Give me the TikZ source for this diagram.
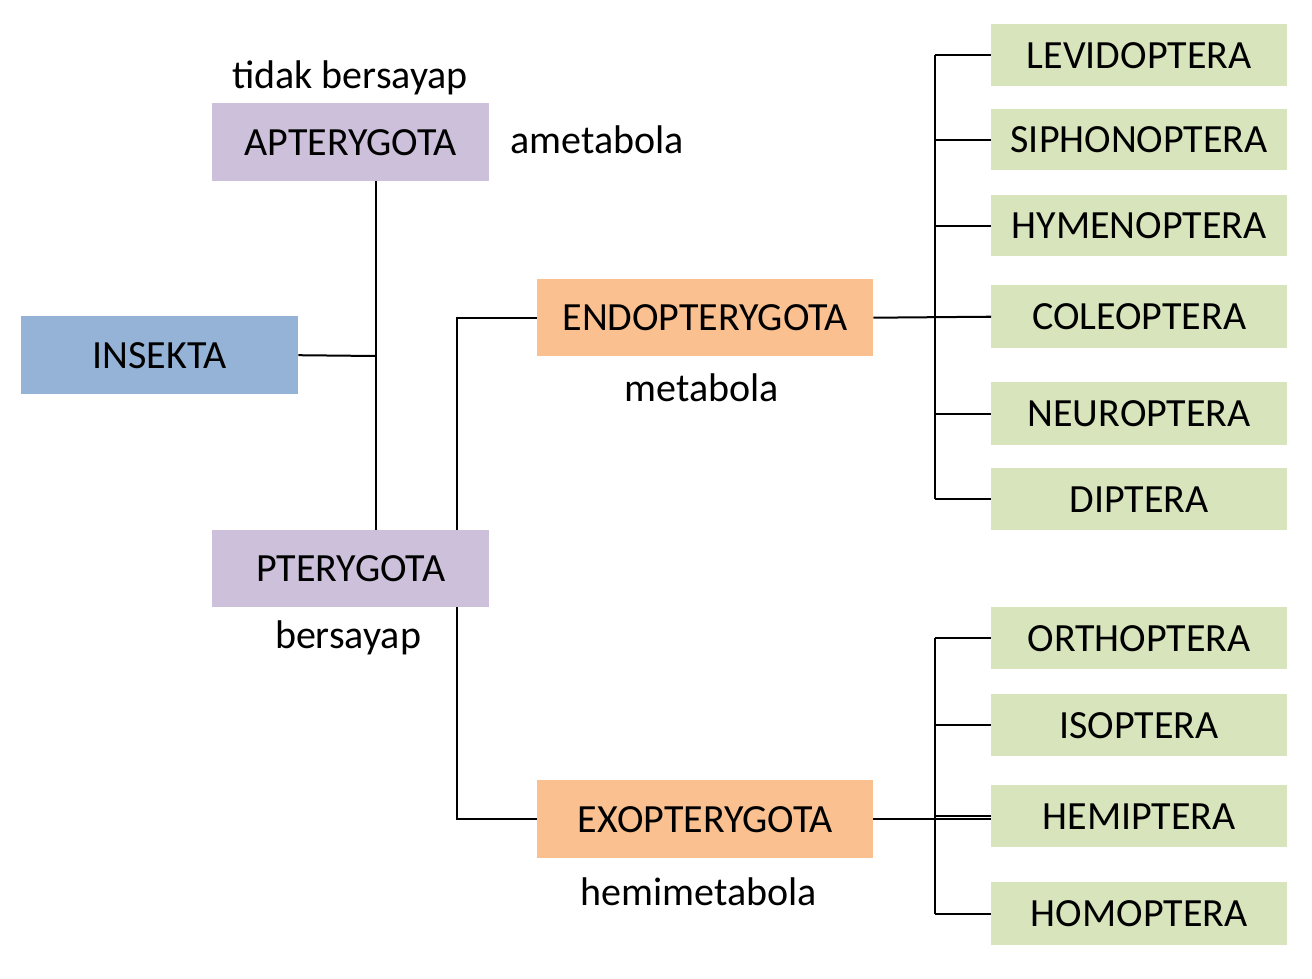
\documentclass[tikz,border=0pt]{standalone}
\usepackage{fontspec}
\setmainfont{Carlito}
\begin{document}
\begin{tikzpicture}[x=1pt,y=-1pt,
 bx/.style={inner sep=0pt,anchor=north west,font=\fontsize{40}{44}\selectfont},
 lb/.style={font=\fontsize{40}{44}\selectfont},
 ln/.style={line width=2pt}]
\useasboundingbox (0,0) rectangle (1312,978);
\definecolor{cb}{HTML}{95B3D7}\definecolor{cp}{HTML}{CCC0DA}
\definecolor{co}{HTML}{FAC090}\definecolor{cg}{HTML}{D7E4BC}
\newcommand\bxx[6]{\node[bx,fill=#6,minimum width=#4pt,minimum height=#5pt] (#1) at (#2,#3) {};\node[lb] at (#1.center) {\strut\MakeUppercase{#1}};}
\node[bx,fill=cb,minimum width=277pt,minimum height=78pt] (ins) at (21,316) {};
\node[lb] at (ins.center) {INSEKTA};
\node[bx,fill=cp,minimum width=277pt,minimum height=78pt] (apt) at (212,103) {};
\node[lb] at (apt.center) {APTERYGOTA};
\node[bx,fill=cp,minimum width=277pt,minimum height=77pt] (pte) at (212,530) {};
\node[lb] at (pte.center) {PTERYGOTA};
\node[bx,fill=co,minimum width=336pt,minimum height=77pt] (endo) at (537,279) {};
\node[lb] at (endo.center) {ENDOPTERYGOTA};
\node[bx,fill=co,minimum width=336pt,minimum height=78pt] (exo) at (537,780) {};
\node[lb] at (exo.center) {EXOPTERYGOTA};
\foreach \n/\t/\y/\h in {g1/LEVIDOPTERA/24/62,g2/SIPHONOPTERA/109/61,g3/HYMENOPTERA/195/61,g4/COLEOPTERA/285/63,g5/NEUROPTERA/382/63,g6/DIPTERA/468/62,g7/ORTHOPTERA/607/62,g8/ISOPTERA/694/62,g9/HEMIPTERA/785/62,g10/HOMOPTERA/882/63}{
 \node[bx,fill=cg,minimum width=296pt,minimum height=\h pt] (\n) at (991,\y) {};
 \node[lb] at (\n.center) {\t};}
\node[lb] (l1) at (350,78) {tidak bersayap};
\node[lb] (l2) at (597,140) {ametabola};
\node[lb] (l3) at (702,388) {metabola};
\node[lb] (l4) at (348,638) {bersayap};
\node[lb] (l5) at (699,892) {hemimetabola};
\coordinate (j1) at (376,356);
\draw[ln] (ins.east) -- (j1);
\draw[ln] (apt.south -| j1) -- (pte.north -| j1);
\draw[ln] ([xshift=-32pt]pte.north east) |- (endo.west);
\draw[ln] ([xshift=-32pt]pte.south east) |- (exo.west);
\draw[ln] (endo.east) -- (g4.west);
\draw[ln] (exo.east) -- (exo.east -| g9.west);
\foreach \n in {g1,g2,g3,g4,g5,g6}{\draw[ln] (935,0 |- \n.west) -- (\n.west);}
\draw[ln] (935,0 |- g1.west) -- (935,0 |- g6.west);
\foreach \n in {g7,g8,g9,g10}{\draw[ln] (935,0 |- \n.west) -- (\n.west);}
\draw[ln] (935,0 |- g7.west) -- (935,0 |- g10.west);
\end{tikzpicture}
\end{document}
